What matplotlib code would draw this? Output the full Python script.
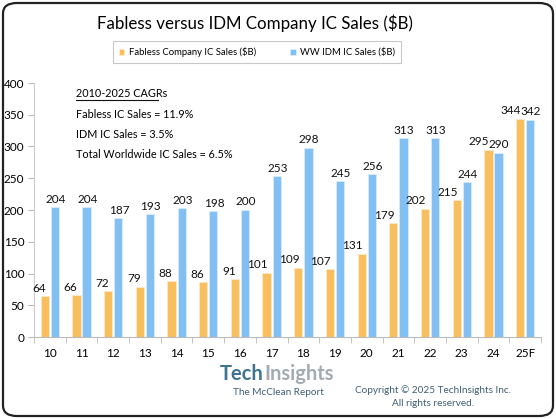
import numpy as np
import matplotlib.pyplot as plt
from matplotlib.patches import FancyBboxPatch

plt.rcParams['font.family'] = ['Lato', 'DejaVu Sans']

years = ['10', '11', '12', '13', '14', '15', '16', '17', '18', '19', '20', '21', '22', '23', '24', '25F']
fabless = [64, 66, 72, 79, 88, 86, 91, 101, 109, 107, 131, 179, 202, 215, 295, 344]
idm = [204, 204, 187, 193, 203, 198, 200, 253, 298, 245, 256, 313, 313, 244, 290, 342]
cagr_lines = ['Fabless IC Sales = 11.9%', 'IDM IC Sales = 3.5%', 'Total Worldwide IC Sales = 6.5%']

c_fab = '#F9BF5E'
c_idm = '#82C0F4'

fig = plt.figure(figsize=(5.56, 4.19), dpi=100)
W, H = 556, 419

# rounded frame
frame = FancyBboxPatch((3 / W, 3 / H), 550 / W, 413 / H, boxstyle='round,pad=0,rounding_size=0.025',
                       transform=fig.transFigure, fill=False, edgecolor='#222222', linewidth=1.6)
fig.patches.append(frame)

ax = fig.add_axes([34 / W, 1 - 337 / H, 507 / W, 254 / H])
x = np.arange(len(years))
bw = 0.26
off = 0.16
ax.bar(x - off, fabless, bw, color=c_fab, edgecolor='#FDE9C8', linewidth=0.6, label='Fabless Company IC Sales ($B)')
ax.bar(x + off, idm, bw, color=c_idm, edgecolor='#D8ECFC', linewidth=0.6, label='WW IDM IC Sales ($B)')

for i in range(len(years)):
    ax.text(x[i] - off + 0.03, fabless[i] + 4, str(fabless[i]), ha='right', va='bottom', fontsize=8.5, color='#111111')
    ax.text(x[i] + off + 0.02, idm[i] + 4, str(idm[i]), ha='center', va='bottom', fontsize=8.5, color='#111111')

ax.set_xlim(-0.5, len(years) - 0.5)
ax.set_ylim(0, 400)
ax.set_yticks(range(0, 401, 50))
ax.set_xticks(x)
ax.set_xticklabels(years)
ax.set_xticks(np.arange(-0.5, len(years), 1), minor=True)
ax.tick_params(axis='x', which='major', length=0, pad=8, labelsize=8.5)
ax.tick_params(axis='x', which='minor', length=4, color='#BBBBBB')
ax.tick_params(axis='y', length=4, color='#BBBBBB', labelsize=8.5, pad=3)
for s in ['top', 'right']:
    ax.spines[s].set_visible(False)
ax.spines['left'].set_color('#CCCCCC')
ax.spines['bottom'].set_color('#BBBBBB')

# CAGR notes
fig.text(76 / W, 1 - 93 / H, '2010-2025 CAGRs', fontsize=7.8, va='center', ha='left')
fig.add_artist(plt.Line2D([76 / W, 158 / W], [1 - 100 / H, 1 - 100 / H], color='#111111', linewidth=0.8))
for k, line in enumerate(cagr_lines):
    fig.text(76 / W, 1 - (114 + 20 * k) / H, line, fontsize=7.8, va='center', ha='left')

fig.text(255 / W, 1 - 23 / H, 'Fabless versus IDM Company IC Sales ($B)', fontsize=12.2, ha='center', va='center')
leg = fig.legend(loc='center', bbox_to_anchor=(257 / W, 1 - 52 / H), ncol=2, fontsize=6.8,
                 frameon=True, fancybox=False, edgecolor='#BBBBBB', handlelength=0.6, handleheight=0.6,
                 columnspacing=3.6, handletextpad=0.5, borderpad=0.6)
leg.get_frame().set_linewidth(0.8)

# footer
fig.text(264 / W, 1 - 374 / H, 'Tech', fontsize=14.5, fontweight='bold', color='#3F7390', ha='right', va='center')
fig.text(264 / W, 1 - 374 / H, 'Insights', fontsize=14.5, fontweight='bold', color='#A3ABB3', ha='left', va='center')
fig.text(278 / W, 1 - 392 / H, 'The McClean Report', fontsize=7.2, color='#3F5F75', ha='center', va='center')
fig.text(433 / W, 1 - 390 / H, 'Copyright \u00a9 2025 TechInsights Inc.', fontsize=7.2, color='#3F5F75', ha='center', va='center')
fig.text(433 / W, 1 - 403 / H, 'All rights reserved.', fontsize=7.2, color='#3F5F75', ha='center', va='center')

fig.savefig('out.png', dpi=100, facecolor='white')
